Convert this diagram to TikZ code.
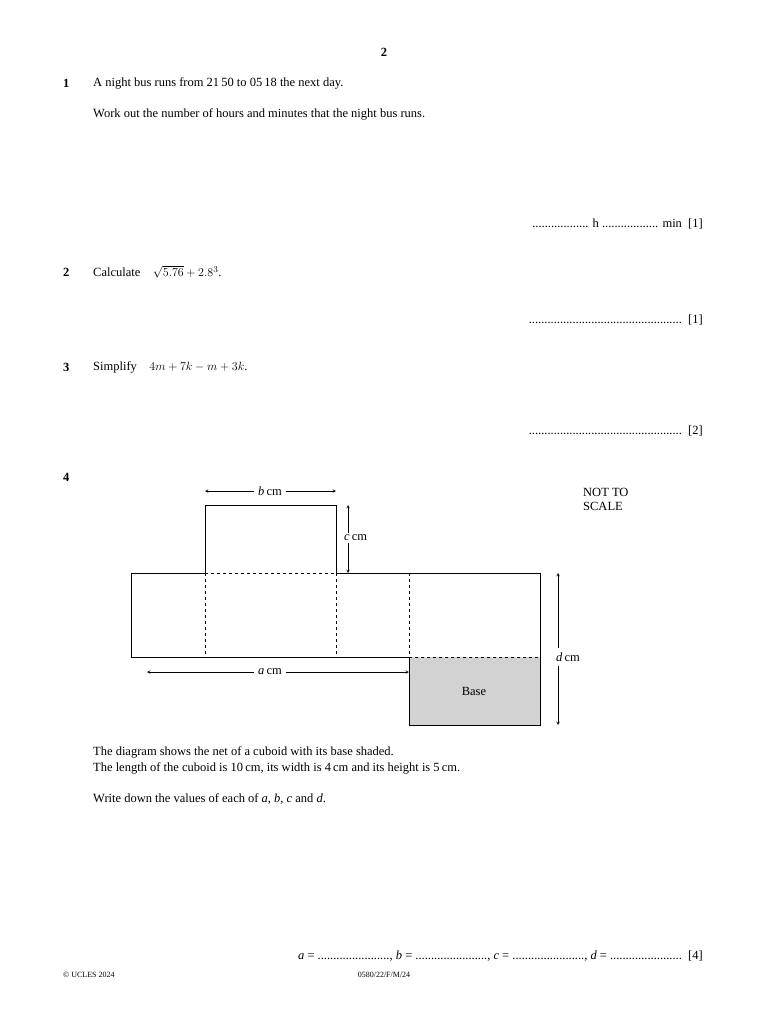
\documentclass[tikz,border=0pt]{standalone}
\usepackage{fontspec}
\setmainfont{Liberation Serif}
\begin{document}
\begin{tikzpicture}[x=1pt,y=-1pt,
  txt/.style={anchor=west,inner sep=0,font=\fontsize{12.5}{14}\selectfont},
  small/.style={inner sep=0,font=\fontsize{8}{9}\selectfont},
  solidl/.style={line width=1pt},
  dashl/.style={dashed,line width=0.6pt},
  arr/.style={-stealth,line width=0.5pt}]
\useasboundingbox (0,0) rectangle (768,1024);
\node[txt,font=\bfseries\fontsize{12.5}{14}\selectfont,anchor=center] (pg) at (384,52) {2};
\node[txt,font=\bfseries\fontsize{12.5}{14}\selectfont] (n1) at (63,83) {1};
\node[txt] (q1a) at (93,83) {A night bus runs from 21\,50 to 05\,18 the next day.};
\node[txt] (q1b) at (93,114) {Work out the number of hours and minutes that the night bus runs.};
\node[txt,anchor=east] (a1) at (703,224) {.................. h .................. min\enspace[1]};
\node[txt,font=\bfseries\fontsize{12.5}{14}\selectfont] (n2) at (63,272) {2};
\node[txt] (q2) at (93,272) {Calculate\quad $\sqrt{5.76}+2.8^3$.};
\node[txt,anchor=east] (a2) at (703,320) {.................................................\enspace[1]};
\node[txt,font=\bfseries\fontsize{12.5}{14}\selectfont] (n3) at (63,367) {3};
\node[txt] (q3) at (93,367) {Simplify\quad $4m+7k-m+3k$.};
\node[txt,anchor=east] (a3) at (703,431) {.................................................\enspace[2]};
\node[txt,font=\bfseries\fontsize{12.5}{14}\selectfont] (n4) at (63,477) {4};
\node[txt,align=left,anchor=north west] (ns) at (583,488) {NOT TO\\SCALE};
% net
\fill[gray!35] (409,657) rectangle (540,725);
\draw[solidl] (131,573) -- (205,573) -- (205,505) -- (336,505) -- (336,573) -- (540,573) -- (540,725) -- (409,725) -- (409,657) -- (131,657) -- cycle;
\draw[dashl] (205,573) -- (336,573) (205,573) -- (205,657) (336,573) -- (336,657) (409,573) -- (409,657) (409,657) -- (540,657);
\node[txt,anchor=center] (base) at (474,691) {Base};
% dims
\node[txt,anchor=center,inner xsep=4pt] (bl) at (270,491) {\textit{b}\,cm};
\draw[arr] (bl.west) -- (205,491);
\draw[arr] (bl.east) -- (336,491);
\coordinate (ct) at (348,505); \coordinate (cb) at (348,573);
\draw[stealth-stealth,line width=0.5pt] (ct) -- (cb);
\node[txt,anchor=west,fill=white,inner ysep=2pt] (cl) at (344,538) {\textit{c}\,cm};
\node[txt,anchor=center,inner xsep=4pt] (al) at (270,672) {\textit{a}\,cm};
\draw[arr] (al.west) -- (147,672);
\draw[arr] (al.east) -- (409,672);
\node[txt,anchor=center] (dl) at (568,657) {\textit{d}\,cm};
\draw[arr] (558,648) -- (558,573);
\draw[arr] (558,666) -- (558,725);
\node[txt] (t1) at (93,752) {The diagram shows the net of a cuboid with its base shaded.};
\node[txt] (t2) at (93,768) {The length of the cuboid is 10\,cm, its width is 4\,cm and its height is 5\,cm.};
\node[txt] (t3) at (93,799) {Write down the values of each of \textit{a}, \textit{b}, \textit{c} and \textit{d}.};
\node[txt,anchor=east] (a4) at (703,956) {\textit{a} = ......................., \textit{b} = ......................., \textit{c} = ......................., \textit{d} = .......................\enspace[4]};
\node[small,anchor=west] (f1) at (63,975) {© UCLES 2024};
\node[small,anchor=center] (f2) at (384,975) {0580/22/F/M/24};
\end{tikzpicture}
\end{document}
